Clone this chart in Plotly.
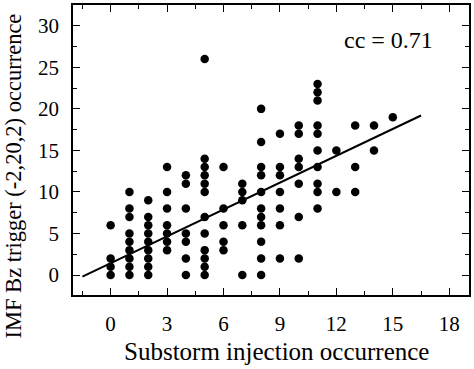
import plotly.graph_objects as go

# Scatter data: injection occurrence (x) and IMF Bz trigger occurrence (y)
col_x = [0, 1, 2, 3, 4, 5, 6, 7, 8, 9, 10, 11, 12, 13, 14, 15]
col_y = [
    [6, 2, 1, 0],
    [10, 8, 7, 5, 4, 3, 2, 1, 0],
    [9, 7, 6, 5, 4, 3, 2, 1, 0],
    [13, 10, 8, 6, 5, 4, 3],
    [12, 11, 8, 5, 4, 2, 0],
    [26, 14, 13, 12, 11, 10, 7, 5, 3, 2, 1, 0],
    [13, 8, 6, 4, 3],
    [11, 10, 9, 6, 0],
    [20, 16, 13, 12, 10, 8, 7, 6, 4, 2, 0],
    [17, 13, 12, 10, 8, 6, 2],
    [18, 17, 14, 13, 11, 7, 2],
    [23, 22, 21, 18, 17, 15, 13, 11, 10, 8],
    [15, 10],
    [18, 13, 10],
    [18, 15],
    [19],
]
fit_x = [-1.5, 16.5]
fit_slope = 1.078
fit_intercept = 1.417
cc_label = "cc = 0.71"
x_ticks = [0, 3, 6, 9, 12, 15, 18]
y_ticks = [0, 5, 10, 15, 20, 25, 30]

xs, ys = [], []
for cx, vals in zip(col_x, col_y):
    for v in vals:
        xs.append(cx)
        ys.append(v)
fit_y = [fit_intercept + fit_slope * v for v in fit_x]

FONT = "'Times New Roman', Times, Tinos, 'Liberation Serif', serif"
fig = go.Figure()
fig.add_trace(go.Scatter(x=xs, y=ys, mode="markers",
                         marker=dict(size=8.5, color="black"), showlegend=False))
fig.add_trace(go.Scatter(x=fit_x, y=fit_y, mode="lines",
                         line=dict(color="black", width=2), showlegend=False))

axis_common = dict(showgrid=False, zeroline=False, showline=True, linecolor="black",
                   linewidth=1.5, mirror="ticks", ticks="inside", tickcolor="black",
                   tickwidth=1.2, ticklen=7,
                   tickfont=dict(family=FONT, size=21, color="black"))
fig.update_xaxes(range=[-2, 19.05], tickvals=x_ticks, ticklabelstandoff=9,
                 minor=dict(ticks="inside", dtick=1.5, tick0=0, ticklen=4,
                            tickcolor="black", tickwidth=1.2),
                 **axis_common)
fig.update_yaxes(range=[-2.4, 32.5], tickvals=y_ticks, ticklabelstandoff=8,
                 minor=dict(ticks="inside", dtick=2.5, tick0=0, ticklen=4,
                            tickcolor="black", tickwidth=1.2),
                 **axis_common)

fig.add_annotation(x=14.75, y=28.3, xref="x", yref="y", text=cc_label, showarrow=False,
                   font=dict(family=FONT, size=24, color="black"))
fig.add_annotation(x=0.514, y=-0.196, xref="paper", yref="paper",
                   text="Substorm injection occurrence", showarrow=False,
                   xanchor="center", yanchor="middle",
                   font=dict(family=FONT, size=25, color="black"))
fig.add_annotation(x=-0.149, y=0.412, xref="paper", yref="paper",
                   text="IMF Bz trigger (-2,20,2) occurrence", showarrow=False,
                   textangle=-90, xanchor="center", yanchor="middle", borderpad=0,
                   font=dict(family=FONT, size=22.5, color="black"))

fig.update_layout(width=474, height=369, margin=dict(l=73, r=3, t=4, b=74),
                  plot_bgcolor="white", paper_bgcolor="white")
fig.write_html("out.html", config={"displayModeBar": False},
               post_script="document.body.style.margin='0';")
